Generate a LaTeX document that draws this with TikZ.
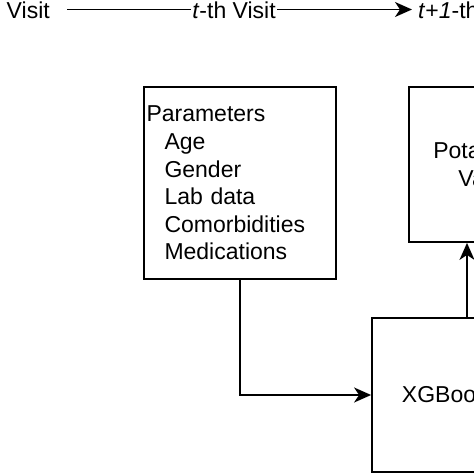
\documentclass[tikz,border=0pt]{standalone}
\usepackage{fontspec}
\setmainfont{Liberation Sans}
\usepackage{tikz}
\usetikzlibrary{arrows.meta, positioning}
\tikzstyle{box} = [rectangle,
line width=1.8pt,
draw=black,
inner sep=0pt,
font=\fontsize{23}{27.6}\selectfont]
\tikzstyle{visit} = [inner ysep=0pt,
text height=22pt,
text depth=5pt,
font=\fontsize{23}{27.6}\selectfont]
\tikzstyle{arrow} = [line width=1.8pt,-{Stealth[length=17pt,width=15pt,inset=5pt]}]

\begin{document}
\begin{tikzpicture}[x=1pt,y=-1pt]
\useasboundingbox (0,0) rectangle (474,474);
\clip (0,0) rectangle (474,474);

% time line
\node (prev) [visit, anchor=east, inner xsep=0pt] at (50,9.5) {\textit{t}-\textit{1}-th Visit};
\node (next) [visit, anchor=west, inner xsep=0pt] at (418,9.5) {\textit{t}+\textit{1}-th Visit};
\draw [arrow, shorten <=17pt, shorten >=6pt] (prev.east) -- node [visit, fill=white, inner xsep=1pt] {\textit{t}-th Visit} (next.west);

% blocks
\node (params) [box, minimum width=192pt, minimum height=192pt, text width=187pt, align=left] at (240,183) {Parameters\\
\hspace*{18pt}Age\\
\hspace*{18pt}Gender\\
\hspace*{18pt}Lab data\\
\hspace*{18pt}Comorbidities\\
\hspace*{18pt}Medications};
\node (potassium) [box, minimum width=156pt, minimum height=155pt, align=center] at (487,164.5) {Potassium\\Value};
\node (xgboost) [box, minimum width=152pt, minimum height=154pt] at (448,395) {XGBoost};

\draw [arrow] (params.south) |- (xgboost.west);
\draw [arrow] ([xshift=19pt]xgboost.north) -- ([xshift=19pt]xgboost.north |- potassium.south);

\end{tikzpicture}
\end{document}
